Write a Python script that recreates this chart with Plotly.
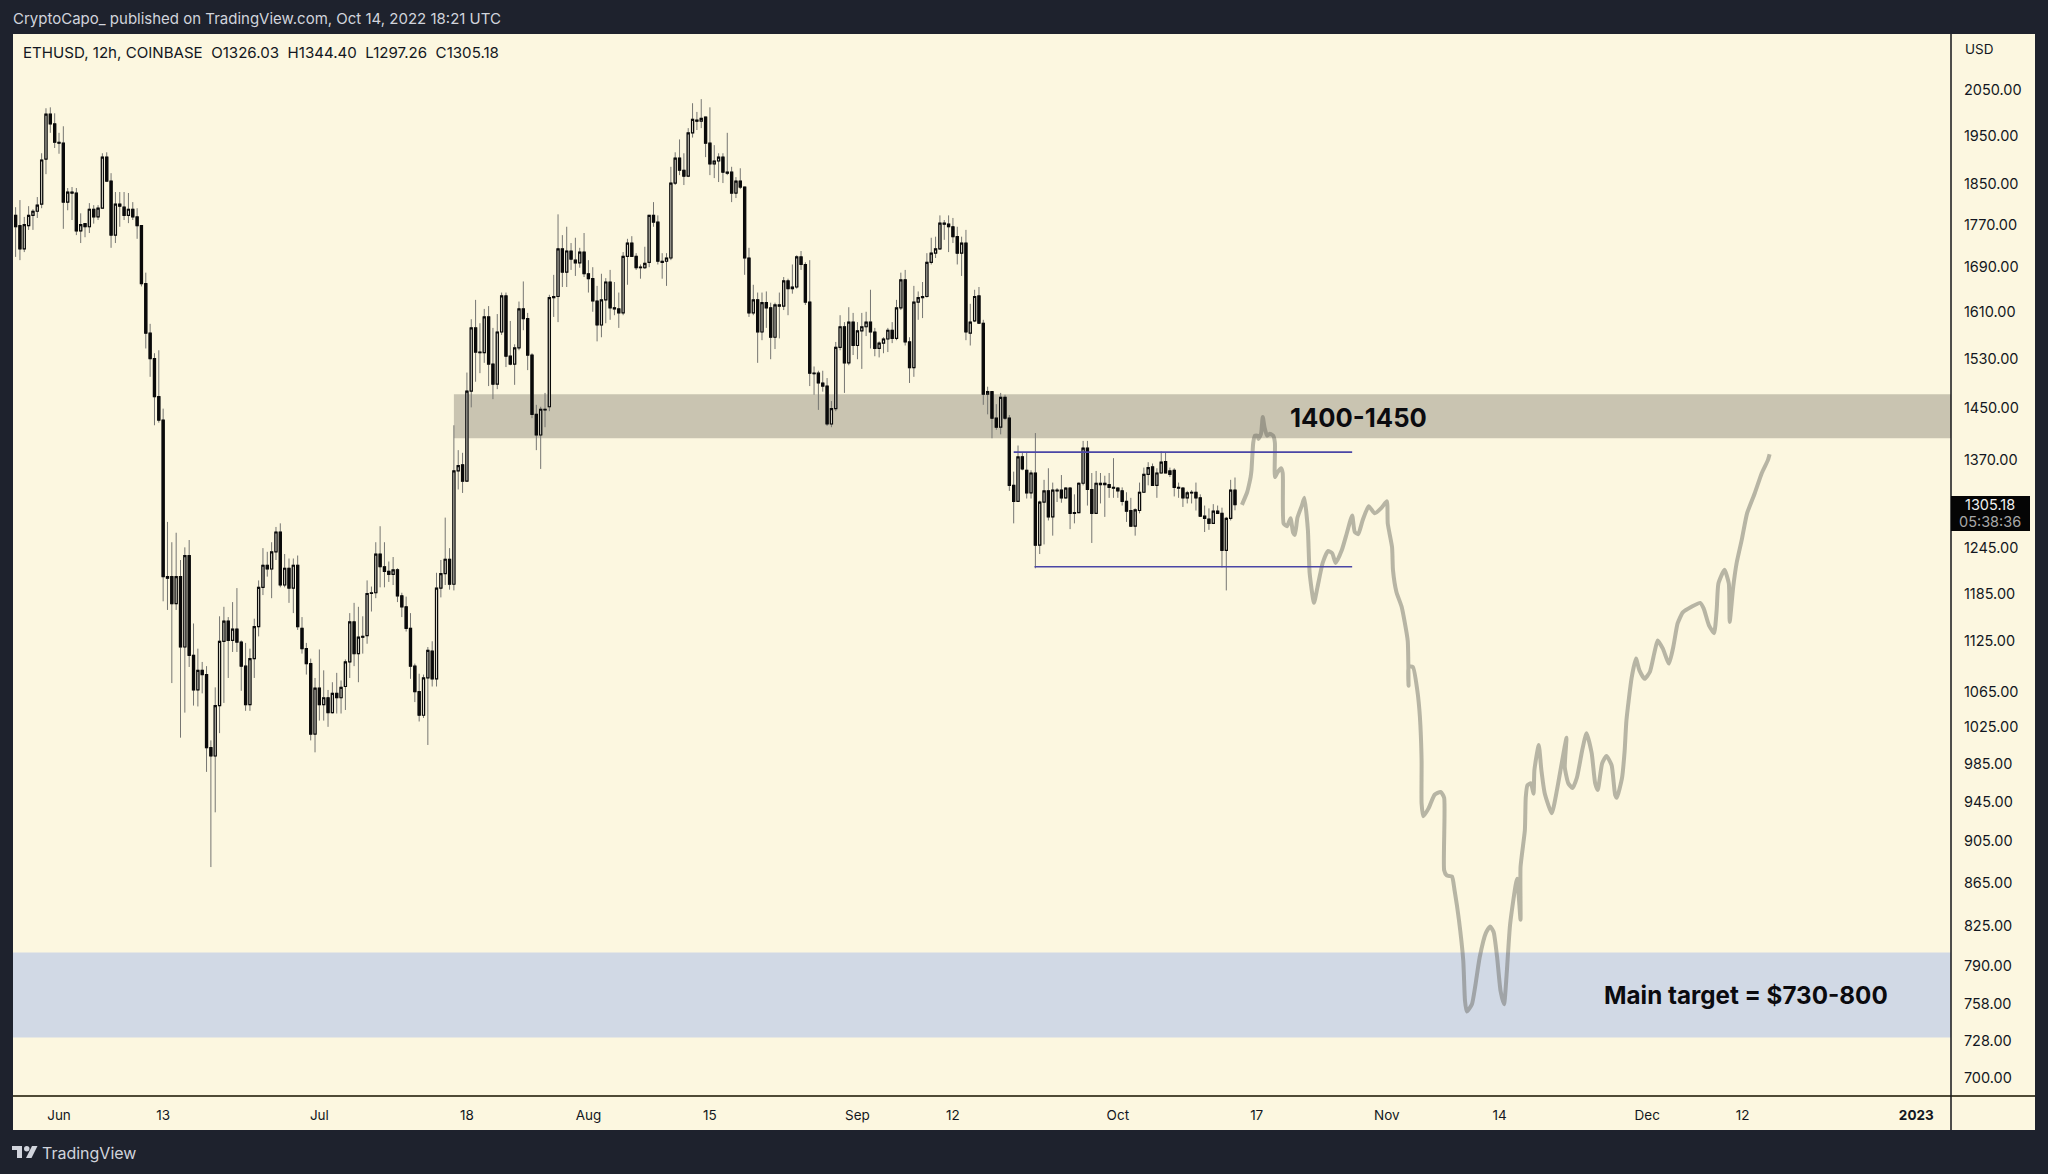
import numpy as np
import pandas as pd
import plotly.graph_objects as go

# ETHUSD 12h candles, first bar 2022-05-27 00:00
opens = [
    1788, 1768, 1724, 1768, 1788, 1796, 1810, 1901, 1996, 1975,
    1936, 1934, 1814, 1834, 1832, 1758, 1772, 1766, 1800, 1785,
    1802, 1905, 1856, 1750, 1810, 1804, 1788, 1800, 1785, 1768,
    1660, 1573, 1530, 1468, 1431, 1207, 1207, 1172, 1207, 1118,
    1235, 1108, 1067, 1090, 1085, 1002, 993, 1049, 1125, 1150,
    1126, 1140, 1124, 1095, 1050, 1104, 1143, 1193, 1222, 1217,
    1240, 1267, 1196, 1218, 1192, 1222, 1141, 1116, 1098, 1017,
    1069, 1050, 1058, 1041, 1063, 1058, 1071, 1100, 1149, 1110,
    1131, 1132, 1185, 1186, 1237, 1220, 1214, 1210, 1216, 1182,
    1168, 1141, 1095, 1065, 1038, 1081, 1113, 1080, 1192, 1211,
    1230, 1197, 1354, 1363, 1339, 1477, 1582, 1541, 1540, 1601,
    1521, 1488, 1575, 1638, 1534, 1521, 1548, 1615, 1598, 1536,
    1440, 1408, 1448, 1452, 1635, 1637, 1724, 1681, 1720, 1703,
    1698, 1718, 1678, 1669, 1629, 1587, 1631, 1663, 1617, 1615,
    1608, 1710, 1735, 1710, 1690, 1689, 1699, 1788, 1775, 1701,
    1701, 1707, 1852, 1903, 1878, 1866, 1956, 1983, 1981, 1990,
    1934, 1891, 1897, 1905, 1874, 1874, 1832, 1856, 1844, 1707,
    1608, 1631, 1575, 1626, 1617, 1566, 1622, 1620, 1665, 1651,
    1654, 1709, 1695, 1627, 1506, 1506, 1490, 1485, 1425, 1449,
    1549, 1584, 1523, 1592, 1552, 1577, 1584, 1592, 1575, 1547,
    1556, 1563, 1578, 1564, 1617, 1667, 1558, 1515, 1627, 1635,
    1637, 1699, 1716, 1724, 1773, 1771, 1766, 1747, 1716, 1735,
    1573, 1594, 1638, 1590, 1472, 1476, 1434, 1420, 1467, 1434,
    1333, 1310, 1375, 1355, 1322, 1351, 1249, 1309, 1325, 1288,
    1326, 1326, 1315, 1329, 1294, 1294, 1336, 1388, 1327, 1293,
    1336, 1336, 1334, 1330, 1329, 1325, 1310, 1297, 1275, 1297,
    1323, 1349, 1360, 1333, 1351, 1368, 1354, 1355, 1330, 1329,
    1315, 1323, 1323, 1315, 1289, 1285, 1279, 1296, 1293, 1242,
    1286, 1326.03,
]
highs = [
    1804, 1818, 1785, 1806, 1800, 1824, 1913, 2009, 2011, 1998,
    1956, 1970, 1842, 1844, 1842, 1792, 1773, 1812, 1808, 1808,
    1913, 1915, 1872, 1834, 1834, 1834, 1832, 1814, 1802, 1768,
    1680, 1589, 1539, 1544, 1449, 1281, 1253, 1266, 1229, 1246,
    1256, 1147, 1116, 1100, 1095, 1010, 1070, 1156, 1168, 1155,
    1174, 1192, 1126, 1123, 1116, 1153, 1202, 1245, 1240, 1253,
    1274, 1279, 1237, 1231, 1231, 1235, 1155, 1123, 1104, 1081,
    1115, 1090, 1067, 1076, 1087, 1078, 1103, 1160, 1173, 1168,
    1156, 1202, 1194, 1253, 1275, 1253, 1227, 1233, 1218, 1186,
    1181, 1160, 1098, 1086, 1085, 1118, 1125, 1212, 1229, 1287,
    1245, 1423, 1385, 1381, 1507, 1597, 1631, 1590, 1615, 1620,
    1582, 1606, 1644, 1644, 1594, 1554, 1628, 1664, 1608, 1539,
    1455, 1452, 1474, 1640, 1676, 1790, 1750, 1766, 1735, 1745,
    1726, 1754, 1703, 1690, 1656, 1678, 1670, 1685, 1663, 1644,
    1718, 1743, 1748, 1716, 1695, 1728, 1788, 1814, 1788, 1716,
    1716, 1885, 1915, 1942, 1913, 1966, 2020, 2001, 2029, 1990,
    2011, 1930, 1913, 1913, 1956, 1885, 1864, 1882, 1844, 1726,
    1658, 1644, 1644, 1646, 1626, 1626, 1644, 1672, 1669, 1695,
    1712, 1720, 1699, 1703, 1517, 1510, 1510, 1498, 1461, 1558,
    1604, 1592, 1618, 1608, 1592, 1608, 1610, 1649, 1582, 1559,
    1566, 1582, 1592, 1631, 1680, 1685, 1566, 1656, 1646, 1663,
    1716, 1745, 1747, 1788, 1779, 1788, 1783, 1766, 1747, 1760,
    1624, 1649, 1654, 1596, 1484, 1476, 1456, 1474, 1471, 1439,
    1353, 1392, 1382, 1382, 1355, 1411, 1311, 1341, 1358, 1337,
    1329, 1348, 1330, 1330, 1320, 1337, 1399, 1399, 1351, 1354,
    1351, 1347, 1351, 1373, 1330, 1330, 1323, 1315, 1300, 1337,
    1359, 1367, 1365, 1358, 1383, 1382, 1359, 1358, 1337, 1330,
    1325, 1326, 1337, 1320, 1304, 1300, 1306, 1304, 1301, 1288,
    1341, 1344.40,
]
lows = [
    1709, 1703, 1718, 1760, 1760, 1783, 1802, 1870, 1956, 1924,
    1912, 1762, 1798, 1779, 1750, 1735, 1746, 1754, 1772, 1779,
    1802, 1854, 1726, 1735, 1766, 1779, 1773, 1779, 1743, 1655,
    1547, 1500, 1423, 1427, 1175, 1164, 1075, 1164, 1013, 1041,
    1094, 1049, 1048, 1063, 976, 880, 934, 1018, 1052, 1081,
    1112, 1112, 1066, 1043, 1043, 1081, 1131, 1183, 1207, 1179,
    1229, 1193, 1193, 1173, 1160, 1139, 1110, 1085, 1010, 997,
    1032, 1032, 1025, 1040, 1040, 1040, 1044, 1081, 1095, 1076,
    1110, 1122, 1162, 1179, 1193, 1193, 1200, 1196, 1174, 1155,
    1137, 1080, 1053, 1031, 1035, 1005, 1071, 1071, 1180, 1196,
    1190, 1189, 1327, 1322, 1339, 1451, 1492, 1506, 1523, 1485,
    1464, 1480, 1570, 1516, 1519, 1487, 1544, 1578, 1511, 1434,
    1385, 1357, 1420, 1445, 1601, 1592, 1654, 1654, 1685, 1674,
    1689, 1672, 1644, 1610, 1559, 1566, 1590, 1596, 1604, 1582,
    1604, 1658, 1709, 1685, 1669, 1687, 1690, 1766, 1695, 1669,
    1656, 1703, 1848, 1868, 1848, 1864, 1946, 1962, 1966, 1905,
    1868, 1862, 1854, 1852, 1868, 1814, 1822, 1840, 1676, 1601,
    1604, 1523, 1561, 1582, 1529, 1546, 1564, 1613, 1604, 1642,
    1651, 1685, 1622, 1485, 1471, 1447, 1476, 1422, 1420, 1445,
    1544, 1474, 1519, 1536, 1529, 1513, 1568, 1547, 1534, 1532,
    1539, 1541, 1556, 1561, 1613, 1552, 1490, 1500, 1596, 1599,
    1635, 1695, 1707, 1722, 1741, 1718, 1735, 1695, 1674, 1561,
    1552, 1592, 1589, 1455, 1440, 1403, 1416, 1409, 1431, 1325,
    1279, 1310, 1355, 1314, 1314, 1218, 1237, 1250, 1283, 1262,
    1309, 1308, 1314, 1271, 1279, 1294, 1333, 1304, 1252, 1293,
    1307, 1288, 1315, 1315, 1315, 1304, 1281, 1275, 1262, 1293,
    1322, 1333, 1332, 1315, 1351, 1351, 1345, 1317, 1315, 1302,
    1307, 1307, 1297, 1288, 1267, 1270, 1279, 1292, 1219, 1189,
    1283, 1297.26,
]
closes = [
    1766, 1724, 1770, 1788, 1796, 1808, 1899, 1996, 1975, 1936,
    1934, 1814, 1834, 1832, 1758, 1770, 1766, 1800, 1785, 1802,
    1905, 1856, 1750, 1810, 1806, 1788, 1800, 1785, 1768, 1660,
    1573, 1530, 1468, 1431, 1207, 1205, 1172, 1207, 1118, 1235,
    1108, 1067, 1090, 1085, 1002, 993, 1049, 1125, 1150, 1126,
    1140, 1124, 1095, 1050, 1104, 1143, 1193, 1222, 1217, 1240,
    1267, 1196, 1218, 1192, 1222, 1143, 1116, 1098, 1017, 1069,
    1050, 1058, 1041, 1063, 1058, 1070, 1100, 1149, 1110, 1130,
    1130, 1185, 1186, 1237, 1220, 1214, 1210, 1216, 1182, 1168,
    1141, 1095, 1065, 1038, 1081, 1114, 1080, 1192, 1211, 1230,
    1197, 1354, 1362, 1339, 1477, 1582, 1541, 1540, 1601, 1521,
    1488, 1575, 1638, 1534, 1521, 1548, 1615, 1598, 1536, 1440,
    1408, 1448, 1447, 1635, 1637, 1724, 1681, 1720, 1705, 1698,
    1718, 1678, 1669, 1629, 1587, 1631, 1663, 1617, 1615, 1608,
    1710, 1735, 1710, 1689, 1689, 1697, 1788, 1775, 1701, 1699,
    1707, 1852, 1903, 1878, 1866, 1956, 1985, 1981, 1987, 1934,
    1891, 1897, 1905, 1874, 1872, 1832, 1856, 1844, 1707, 1608,
    1631, 1575, 1626, 1617, 1566, 1622, 1620, 1665, 1651, 1654,
    1709, 1695, 1627, 1506, 1505, 1490, 1485, 1425, 1449, 1549,
    1584, 1523, 1592, 1552, 1577, 1584, 1592, 1575, 1547, 1556,
    1563, 1578, 1564, 1617, 1667, 1558, 1515, 1627, 1635, 1637,
    1699, 1716, 1724, 1773, 1771, 1766, 1747, 1716, 1735, 1575,
    1592, 1637, 1590, 1472, 1476, 1434, 1420, 1467, 1434, 1333,
    1310, 1375, 1357, 1322, 1351, 1249, 1309, 1325, 1288, 1326,
    1325, 1315, 1329, 1293, 1293, 1336, 1388, 1327, 1293, 1336,
    1334, 1334, 1330, 1329, 1325, 1310, 1296, 1275, 1298, 1323,
    1349, 1359, 1333, 1351, 1367, 1351, 1349, 1330, 1329, 1315,
    1322, 1322, 1315, 1289, 1286, 1279, 1296, 1293, 1242, 1286,
    1326, 1305.18,
]

# hand drawn projection, days after 2022-06-01 and price
proj_days = [
    136.3, 136.9, 137.1, 137.3, 137.4, 137.6, 137.8, 138.1, 138.2, 138.5,
    138.7, 138.9, 139.2, 139.5, 139.9, 140.1, 140.1, 140.4, 140.8, 141.0,
    141.1, 141.5, 141.9, 142.2, 142.4, 142.7, 143.2, 143.5, 143.9, 144.1,
    144.6, 145.0, 145.6, 146.2, 146.7, 147.1, 147.8, 148.4, 149.0, 149.3,
    149.7, 150.2, 150.9, 151.6, 152.4, 153.0, 153.1, 153.6, 153.7, 154.1,
    154.7, 155.4, 155.5, 155.5, 156.0, 156.5, 156.8, 157.0, 157.0, 157.2,
    157.8, 158.5, 159.2, 159.6, 159.6, 159.9, 160.5, 160.8, 161.3, 161.8,
    162.0, 162.2, 162.8, 163.2, 163.7, 164.4, 164.9, 165.3, 165.7, 166.1,
    166.5, 166.8, 167.2, 168.0, 168.4, 168.4, 168.9, 169.0, 169.2, 169.6,
    169.9, 170.0, 170.5, 170.8, 171.2, 172.0, 172.6, 173.2, 173.7, 173.5,
    173.9, 174.4, 174.9, 175.5, 176.0, 176.6, 177.0, 177.3, 177.8, 178.3,
    178.9, 179.3, 179.5, 180.1, 180.4, 180.6, 181.2, 181.7, 182.1, 182.7,
    183.3, 183.8, 184.2, 184.8, 185.5, 186.0, 186.5, 187.1, 188.1, 189.1,
    189.5, 190.1, 190.7, 191.0, 191.2, 191.9, 192.4, 192.5, 192.9, 193.3,
    193.9, 194.5, 195.4, 196.2, 196.9, 197.1,
]
proj_prices = [
    1305, 1323, 1333, 1345, 1355, 1396, 1407, 1407, 1402, 1410,
    1436, 1420, 1407, 1410, 1407, 1396, 1345, 1352, 1358, 1351,
    1279, 1275, 1286, 1266, 1263, 1287, 1304, 1315, 1270, 1212,
    1173, 1193, 1225, 1241, 1238, 1225, 1242, 1266, 1290, 1267,
    1264, 1283, 1303, 1293, 1301, 1310, 1279, 1246, 1216, 1187,
    1168, 1126, 1072, 1094, 1094, 1067, 1037, 988, 943, 930,
    938, 952, 955, 949, 877, 872, 871, 858, 831, 795,
    761, 752, 758, 774, 798, 819, 825, 820, 798, 769,
    758, 783, 827, 869, 831, 880, 916, 949, 962, 964,
    953, 978, 1005, 978, 953, 933, 957, 988, 1013, 981,
    964, 959, 970, 999, 1018, 996, 964, 957, 985, 993,
    983, 952, 949, 970, 999, 1032, 1081, 1104, 1090, 1080,
    1088, 1110, 1126, 1116, 1098, 1118, 1147, 1161, 1168, 1173,
    1166, 1145, 1135, 1164, 1198, 1216, 1198, 1149, 1193, 1225,
    1257, 1293, 1322, 1351, 1370, 1379,
]

# blue range lines drawn on the chart
range_top_days = [110.0, 149.0]
range_top_price = [1382, 1382]
range_bottom_days = [112.4, 149.0]
range_bottom_price = [1220, 1220]

# zones
resistance_zone = [1403, 1472]
target_zone = [731, 802]

price_ticks = [2050, 1950, 1850, 1770, 1690, 1610, 1530, 1450, 1370, 1245, 1185,
               1125, 1065, 1025, 985, 945, 905, 865, 825, 790, 758, 728, 700]
date_ticks = ["2022-06-01", "2022-06-13", "2022-07-01", "2022-07-18", "2022-08-01",
              "2022-08-15", "2022-09-01", "2022-09-12", "2022-10-01", "2022-10-17",
              "2022-11-01", "2022-11-14", "2022-12-01", "2022-12-12", "2023-01-01"]
date_labels = ["Jun", "13", "Jul", "18", "Aug", "15", "Sep", "12", "Oct", "17",
               "Nov", "14", "Dec", "12", "<b>2023</b>"]

WIDTH, HEIGHT = 2048, 1174
LEFT, RIGHT, TOP, BOTTOM = 13, 1951, 34, 1096
DARK = "#1e222d"
CREAM = "#fcf7e0"
FONT = "Inter"


def px(x):
    return (x - LEFT) / (RIGHT - LEFT)


def py(y):
    return (BOTTOM - y) / (BOTTOM - TOP)


def day(d):
    return pd.Timestamp("2022-06-01") + pd.to_timedelta(d, unit="D")


def chrome_rect(x0, y0, x1, y1, color, layer="below"):
    return dict(type="rect", xref="paper", yref="paper", x0=px(x0), x1=px(x1),
                y0=py(y0), y1=py(y1), fillcolor=color, line_width=0, layer=layer)


def label(x, y, text, size=14, color="#131722", xanchor="left", weight=None):
    font = dict(family=FONT, size=size, color=color)
    if weight:
        font["weight"] = weight
    return dict(xref="paper", yref="paper", x=px(x), y=py(y), text=text, showarrow=False,
                xanchor=xanchor, yanchor="middle", font=font, align="center")


dates = pd.date_range("2022-05-27", periods=len(opens), freq="12h")
body_tops = np.maximum(opens, closes)
body_bottoms = np.minimum(opens, closes)

fig = go.Figure()

# wicks are greyer than the bodies, so they get their own layer underneath
fig.add_trace(go.Candlestick(
    x=dates, open=opens, high=highs, low=lows, close=closes, whiskerwidth=0,
    increasing=dict(line=dict(color="#767672", width=1), fillcolor="#767672"),
    decreasing=dict(line=dict(color="#767672", width=1), fillcolor="#767672"),
    showlegend=False))
fig.add_trace(go.Candlestick(
    x=dates, open=opens, high=body_tops, low=body_bottoms, close=closes, whiskerwidth=0,
    increasing=dict(line=dict(color="#0a0a0a", width=1.2), fillcolor="#e9e7da"),
    decreasing=dict(line=dict(color="#0a0a0a", width=1.2), fillcolor="#0a0a0a"),
    showlegend=False))

fig.add_trace(go.Scatter(
    x=day(np.array(proj_days)), y=proj_prices, mode="lines",
    line=dict(color="rgba(100,100,90,0.45)", width=4, shape="spline", smoothing=0.5),
    showlegend=False))

for days, prices in [(range_top_days, range_top_price), (range_bottom_days, range_bottom_price)]:
    fig.add_trace(go.Scatter(
        x=day(np.array(days)), y=prices, mode="lines",
        line=dict(color="#4a46a6", width=1.6), showlegend=False))

shapes = [
    chrome_rect(RIGHT, TOP, 2035, 1130, CREAM),
    chrome_rect(LEFT, BOTTOM, 2035, 1130, CREAM),
    dict(type="rect", xref="x", yref="y", x0=day(45.5), x1=day(218),
         y0=resistance_zone[0], y1=resistance_zone[1],
         fillcolor="#c9c4b1", line_width=0, layer="below"),
    dict(type="rect", xref="x", yref="y", x0=day(-6), x1=day(218),
         y0=target_zone[0], y1=target_zone[1],
         fillcolor="#d1d9e5", line_width=0, layer="below"),
    dict(type="line", xref="paper", yref="paper", x0=px(LEFT), x1=px(2035),
         y0=py(BOTTOM), y1=py(BOTTOM), line=dict(color="#4f4b36", width=2)),
    dict(type="line", xref="paper", yref="paper", x0=px(RIGHT), x1=px(RIGHT),
         y0=py(TOP), y1=py(1130), line=dict(color="#15161a", width=1.5)),
    # last price badge
    chrome_rect(RIGHT, 496, 2030, 531, "#050505", layer="above"),
    # TradingView logo
    chrome_rect(12, 1146, 22, 1150, "#d1d4dc"),
    chrome_rect(17, 1146, 22, 1158, "#d1d4dc"),
    dict(type="circle", xref="paper", yref="paper", x0=px(24), x1=px(29.5),
         y0=py(1146), y1=py(1151.5), fillcolor="#d1d4dc", line_width=0),
    dict(type="path", xref="paper", yref="paper", line_width=0, fillcolor="#d1d4dc",
         path=f"M {px(32)} {py(1146)} L {px(37.5)} {py(1146)} L {px(31.5)} {py(1158)} "
              f"L {px(26)} {py(1158)} Z"),
]

annotations = [
    label(11, 19, "CryptoCapo_ published on TradingView.com, Oct 14, 2022 18:21 UTC",
          size=15, color="#d1d4dc"),
    label(21, 53, "ETHUSD, 12h, COINBASE &#160;O1326.03 &#160;H1344.40 &#160;L1297.26 &#160;C1305.18",
          size=15.1),
    label(1963, 49, "USD", size=13.5),
    label(40, 1153, "TradingView", size=16, color="#d1d4dc"),
    label(1358, 417, "1400-1450", size=25.6, color="#0b0b0f", xanchor="center", weight=700),
    label(1746, 995, "Main target = $730-800", size=24.2, color="#0b0b0f", xanchor="center", weight=700),
    label(1990, 505, "1305.18", size=14.5, color="#f0f0f0", xanchor="center"),
    label(1990, 521, "05:38:36", size=14.5, color="#a8a8a8", xanchor="center"),
]

fig.update_layout(
    width=WIDTH, height=HEIGHT,
    margin=dict(l=LEFT, r=WIDTH - RIGHT, t=TOP, b=HEIGHT - BOTTOM, autoexpand=False),
    paper_bgcolor=DARK, plot_bgcolor=CREAM,
    showlegend=False, shapes=shapes, annotations=annotations,
    font=dict(family=FONT, size=13.5, color="#131722"),
    xaxis=dict(
        type="date", range=[day(-5.3), day(218)], rangeslider_visible=False,
        tickmode="array", tickvals=date_ticks, ticktext=date_labels,
        showgrid=False, zeroline=False, showline=False,
        ticks="outside", ticklen=7, tickcolor="rgba(0,0,0,0)",
        tickfont=dict(family=FONT, size=13.5, color="#131722")),
    yaxis=dict(
        type="log", side="right", range=[np.log10(686), np.log10(2178)],
        tickmode="array", tickvals=price_ticks, ticktext=[f"{p:.2f}" for p in price_ticks],
        showgrid=False, zeroline=False, showline=False,
        ticks="outside", ticklen=9, tickcolor="rgba(0,0,0,0)",
        tickfont=dict(family=FONT, size=14.5, color="#131722")),
)

fig.write_html("out.html", config=dict(displayModeBar=False),
               post_script="document.body.style.margin='0';")
